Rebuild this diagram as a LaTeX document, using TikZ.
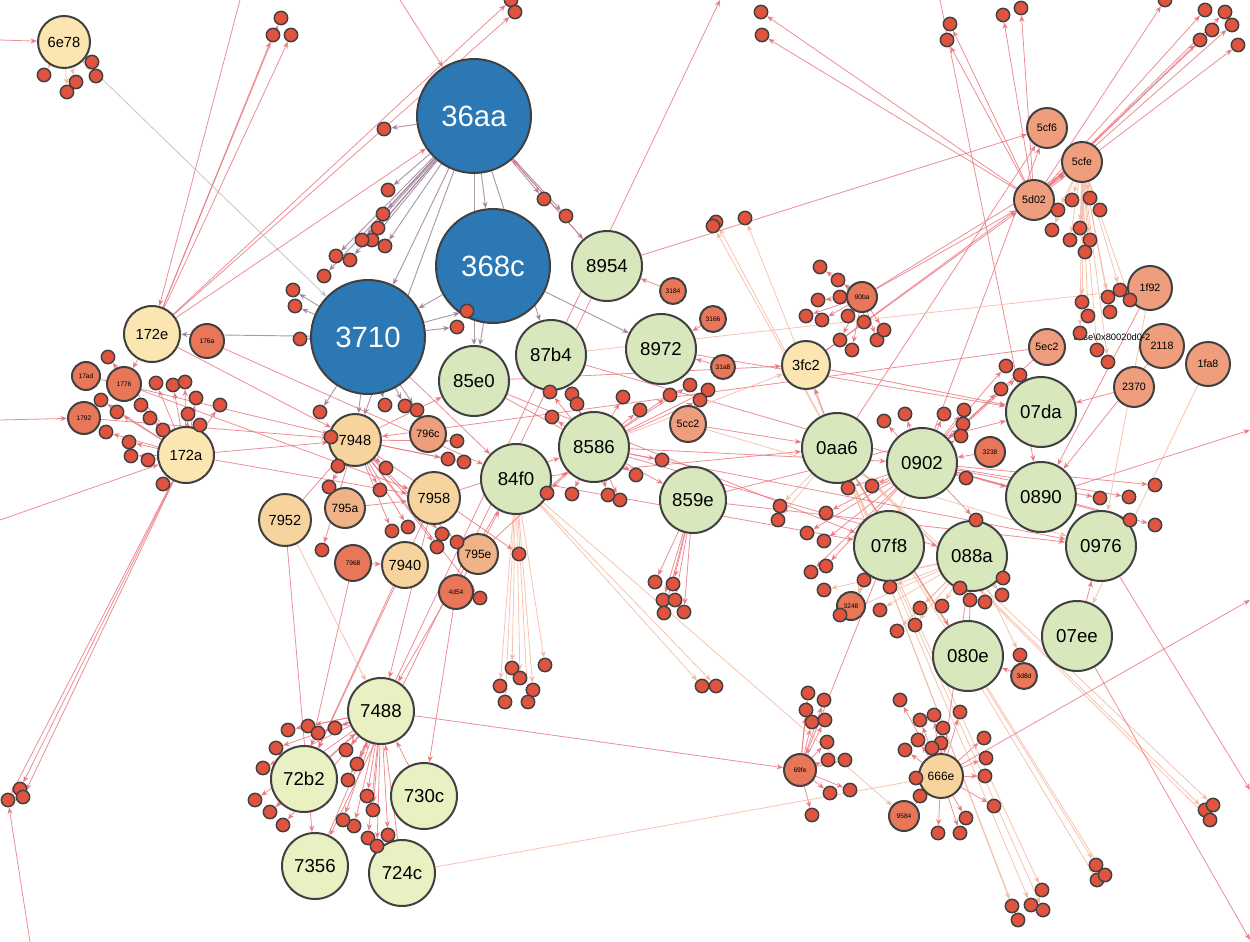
\documentclass[tikz,border=0pt]{standalone}
\usepackage{fontspec}
\setmainfont{Liberation Sans}
\usetikzlibrary{arrows.meta,backgrounds}
\definecolor{blu}{HTML}{2B78B5}
\definecolor{grn}{HTML}{D9E7BD}
\definecolor{lgr}{HTML}{E9F1C3}
\definecolor{yel}{HTML}{FBE5B0}
\definecolor{lor}{HTML}{F7D49E}
\definecolor{ora}{HTML}{F0B287}
\definecolor{sal}{HTML}{EE9E7D}
\definecolor{rdn}{HTML}{E0533F}
\definecolor{mrd}{HTML}{E8775A}
\definecolor{edr}{HTML}{E8707A}
\definecolor{edl}{HTML}{F3B59C}
\definecolor{edp}{HTML}{9B7B96}
\tikzset{
 hub/.style={circle,draw=black!75,line width=1.5pt,minimum size=#1*1.5pt,inner sep=0pt},
 bnode/.style={hub=57,fill=blu,text=white,font=\fontsize{22}{22}\selectfont},
 gnode/.style={hub=35,fill=grn,font=\fontsize{14}{14}\selectfont},
 lnode/.style={hub=33,fill=lgr,font=\fontsize{14}{14}\selectfont},
 ynode/.style={hub=#1,fill=yel,font=\fontsize{11}{11}\selectfont},
 onode/.style={hub=#1,fill=ora,font=\fontsize{9}{9}\selectfont},
 snode/.style={hub=#1,fill=sal,font=\fontsize{9}{9}\selectfont},
 mnode/.style={hub=#1,fill=mrd,font=\fontsize{5}{5}\selectfont},
 sm/.style={circle,draw=black!75,line width=1.1pt,fill=rdn,minimum size=10pt,inner sep=0pt},
 er/.style={draw=edr,opacity=.8,line width=.6pt,-{Stealth[length=5pt,width=4pt]}},
 el/.style={draw=edl,opacity=.8,line width=.6pt,-{Stealth[length=5pt,width=4pt]}},
 ep/.style={draw=edp,opacity=.8,line width=.7pt,-{Stealth[length=5pt,width=4pt]}},
 eg/.style={draw=gray!50,opacity=.8,line width=.7pt,-{Stealth[length=5pt,width=4pt]}},
}
\newcommand\mkclus[3]{\foreach \x/\y in {#3}{\node[sm](c\x-\y) at (\x,\y){};
 \begin{pgfonlayer}{background}\draw[#2](#1)--(c\x-\y);\end{pgfonlayer}}}
\begin{document}
\begin{tikzpicture}[x=0.75pt,y=-0.75pt]
\useasboundingbox (0,0) rectangle (1250,942);
\clip (0,0) rectangle (1250,942);
% big nodes
\node[bnode](n36aa) at (474,116){36aa};
\node[bnode](n368c) at (493,266){368c};
\node[bnode](n3710) at (368,337){3710};
\foreach \n/\x/\y in {8954/607/266,87b4/551/355,8972/661/349,85e0/474/381,8586/594/447,84f0/516/479,0aa6/837/448,0902/922/463,07da/1041/412,0890/1041/497,07f8/889/546,088a/972/556,0976/1101/546,080e/968/656,07ee/1077/636}
 \node[gnode](n\n) at (\x,\y){\n};
\node[gnode,hub=33](n859e) at (693,500){859e};
\foreach \n/\x/\y in {7488/381/711,72b2/304/779,730c/424/796,7356/315/866,724c/402/873}
 \node[lnode](n\n) at (\x,\y){\n};
\node[ynode=28](n172e) at (152,334){172e};
\node[ynode=28](n172a) at (186,455){172a};
\node[ynode=26](n6e78) at (64,42){6e78};
\node[ynode=24](n3fc2) at (806,365){3fc2};
\node[ynode=26,fill=lor](n7948) at (355,440){7948};
\node[ynode=26,fill=lor](n7952) at (285,520){7952};
\node[ynode=26,fill=lor](n7958) at (434,498){7958};
\node[ynode=23,fill=lor](n7940) at (405,565){7940};
\foreach \n/\x/\y/\r in {795a/345/508/20,795e/478/554/20}
 \node[onode=\r](n\n) at (\x,\y){\n};
\node[onode=22,fill=lor](n666e) at (941,776){666e};
\foreach \n/\x/\y/\r in {1f92/1150/288/22,2118/1162/346/22,1fa8/1208/364/22,2370/1134/387/20,5cf6/1047/128/20,5cfe/1082/162/20,5d02/1034/200/20,5ec2/1047/347/18,5cc2/688/424/18,796c/428/434/18}
 \node[snode=\r,font=\fontsize{8}{8}\selectfont](n\n) at (\x,\y){\n};
\foreach \n/\x/\y/\r in {7968/353/563/18,4d54/456/592/17,1776/124/384/17,176a/207/341/17,1792/84/418/16,90ba/862/297/15,69fe/800/770/16,9584/904/816/15,3248/851/606/14,3238/990/452/15,3184/673/291/13,3166/713/319/13,31a8/723/367/12,17ad/86/376/14,3d8d/1024/676/13}
 \node[mnode=\r](n\n) at (\x,\y){\n};
\node[font=\fontsize{7}{7}\selectfont,inner sep=0pt] (lcase) at (1112,337) {case\textbackslash0x80020d0-2};
% clusters
\mkclus{n36aa}{ep}{384/129,388/190,383/214,378/228,372/240,385/246,362/240,336/256,350/260,324/276,544/199,566/216}
\mkclus{n3710}{ep}{293/290,295/306,300/339,320/412,405/406,385/405,417/410,457/327,467/311}
\mkclus{n7948}{er}{331/437,338/466,329/487,380/490,386/468,457/441,448/459,464/462,442/534,437/547,457/542,519/554,480/598,322/550,408/527,392/531}
\mkclus{n172a}{er}{108/357,101/400,117/412,106/432,129/442,150/418,141/405,156/383,173/385,185/382,196/398,188/414,200/425,220/405,163/430,148/460,163/484,131/456}
\mkclus{n0902}{er}{884/421,905/414,944/414,964/410,963/424,961/436,1001/389,1020/375,1006/366,872/486,848/488,826/513,807/533,824/541,811/572,826/566,966/478,976/520,1100/498,1129/497,1130/520,1155/485,1155/525}
\mkclus{n088a}{el}{824/590,840/615,880/610,897/631,915/625,920/608,942/606,890/587,864/580,960/588,970/600,985/602,1003/578,1002/595,1020/655}
\mkclus{n90ba}{er}{820/267,838/280,840/297,818/300,806/316,822/320,848/316,864/322,840/340,852/350,877/340,884/330}
\mkclus{n5cfe}{el}{1072/200,1090/198,1100/210,1080/228,1090/240,1070/240,1058/210,1052/230,1085/252,1108/297,1082/302,1088/316,1080/333,1097/350,1108/362,1110/312,1130/300,1120/290}
\mkclus{n7488}{er}{288/730,276/748,263/768,255/800,270/812,283/825,308/726,318/733,335/728,346/750,357/764,348/780,367/796,373/810,354/826,368/838,377/846,388/835,343/820}
\mkclus{n666e}{er}{900/700,920/720,934/715,943/728,941/743,932/748,918/740,960/712,984/738,986/758,985/776,994/806,966/818,938/833,960/833,920/796,916/778,905/750}
\mkclus{n69fe}{er}{808/693,806/710,824/700,812/722,825/720,827/742,828/760,830/793,812/815,845/760,850/790}
\mkclus{n8586}{er}{620/500,636/475,662/460,640/410,623/397,670/395,690/385,708/390,700/400,608/495,572/494,547/493,552/417,550/392,572/394,577/404}
\mkclus{n84f0}{el}{512/668,520/678,533/690,528/702,505/702,500/686,545/665,702/686,716/686}
\mkclus{n859e}{er}{655/582,673/584,663/600,675/600,664/613,684/612}
\mkclus{n6e78}{el}{44/75,67/92,96/76,92/62,76/82}
\mkclus{n5d02}{er}{1165/0,1205/10,1212/30,1238/45,1232/25,1200/40,1225/12,1003/15,1021/8,950/24,947/40,761/12,762/35}
\mkclus{n172e}{er}{281/18,291/35,273/35,511/0,515/12}
\mkclus{n0aa6}{el}{716/222,745/218,713/226,780/506,778/520,1042/890,1031/905,1018/920,1043/910,1012/906,1096/865,1097/880,1105/875,1205/810,1213/805,1210/820}
\mkclus{n172a}{er}{20/789,8/800,23/797}
% extra edges
\begin{pgfonlayer}{background}
\coordinate (o1) at (0,40); \coordinate (o2) at (0,420); \coordinate (o3) at (0,520);
\coordinate (o4) at (30,942); \coordinate (o5) at (1250,600); \coordinate (o6) at (1250,430);
\coordinate (o7) at (400,0); \coordinate (o8) at (240,0); \coordinate (o9) at (940,0);
\coordinate (o10) at (1250,790); \coordinate (o11) at (720,0); \coordinate (o12) at (1250,940);
\foreach \a/\b in {o1/n6e78,o2/n1792,o3/n172a,o4/c8-800,n666e/o5,n0890/o6,o7/n36aa,o8/n172e,o9/n0890,n0976/o10,n7488/o11,n07ee/o12}
 \draw[er](\a)--(\b);
\foreach \a/\b in {n6e78/n3710}\draw[eg](\a)--(\b);
\foreach \a/\b in {n36aa/n368c,n36aa/n3710,n368c/n3710,n36aa/n8954,n36aa/n85e0,n36aa/n87b4,n368c/n85e0,n3710/n172e,n3710/n7948,n36aa/n7948,n368c/n8972}
 \draw[ep](\a)--(\b);
\foreach \a/\b in {n84f0/n7488,n7958/n7488,n7940/n72b2,n7958/n72b2,n85e0/n859e,n8586/n0902,n859e/n0976,n8972/n07da,n3fc2/n5d02,n3fc2/n5cfe,n0aa6/n5cf6,n5ec2/n7948,n8954/n7356,n7488/n69fe,n172e/n36aa,n172e/n7948,n1776/n7958,n176a/n84f0,n8954/n5cf6,n87b4/n0890,n85e0/n3fc2,n84f0/n07f8,n8586/n088a,n0aa6/n3fc2,n7948/n85e0,n7952/n7948,n795a/n7958,n7968/n7940,n4d54/n84f0,n795e/n8586,n3184/n8954,n3166/n8972,n31a8/n8972,n5cc2/n0aa6,n5ec2/n0902,n2118/n0890,n1f92/n0890,n2370/n07da,n3238/n0902,n3248/n07f8,n080e/n088a,n07ee/n0976,n3d8d/n080e,n0aa6/n080e,n07f8/n69fe,n088a/n666e,n9584/n666e,n7356/n7488,n724c/n7488,n730c/n7488,n72b2/n7488,n7952/n7356,n7968/n72b2,n4d54/n730c,n8586/n0976,n859e/n07da,n3fc2/n07da,n90ba/n5d02,n90ba/n5cfe,n8954/n36aa,n0902/n5cf6,n7958/n8586,n172a/n7948,n1792/n7948,n17ad/n7948,n172e/n1776,n172a/n7958,n85e0/n07f8,n84f0/n0aa6,n3710/n84f0}
 \draw[er](\a)--(\b);
\foreach \a/\b in {n724c/n666e,n1fa8/n07ee,n1f92/n0976,n7952/n7488,n8586/n3fc2,n84f0/n9584,n5cc2/n0976,n87b4/n1f92,n0902/n3248}
 \draw[el](\a)--(\b);
\end{pgfonlayer}
\end{tikzpicture}
\end{document}
